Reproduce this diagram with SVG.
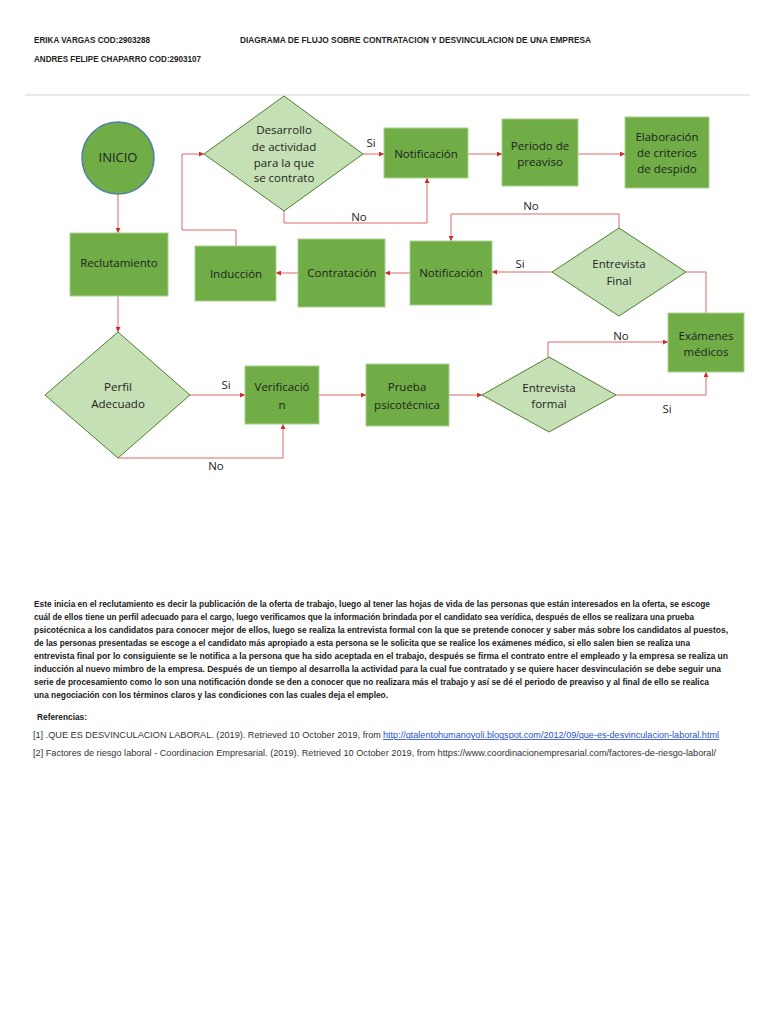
<svg xmlns="http://www.w3.org/2000/svg" width="768" height="1024" viewBox="0 0 768 1024">
<style>
.hd{font-family:"Liberation Sans",Arial,sans-serif;font-size:8.3px;font-weight:bold;fill:#222}
.bd{font-family:"Liberation Sans",Arial,sans-serif;font-size:8.6px;font-weight:bold;fill:#1a1a1a}
.rf{font-family:"Liberation Sans",Arial,sans-serif;font-size:8.2px;fill:#333}
.lk{fill:#1f4fd0;text-decoration:underline}
.box{fill:#70ad47;stroke:#a9d18e;stroke-width:1}
.dia{fill:#c5e0b4;stroke:#507e32;stroke-width:1}
.nt{font-family:"Open Sans","Noto Sans",sans-serif;font-size:11.5px;fill:#1e1e1e;text-anchor:middle}
.lb{font-family:"Open Sans","Noto Sans",sans-serif;font-size:11.5px;fill:#1e1e1e;text-anchor:middle}
.c{fill:none;stroke:#e06666;stroke-width:1}
</style>
<defs>
<marker id="ah" viewBox="0 0 6 6" refX="6" refY="3" markerWidth="5" markerHeight="5" orient="auto" markerUnits="userSpaceOnUse">
<path d="M0,0 L6,3 L0,6 z" fill="#d02c2c"/>
</marker>
</defs>
<rect width="768" height="1024" fill="#ffffff"/>
<g id="header">
<text class="hd" x="34" y="43" textLength="116" lengthAdjust="spacingAndGlyphs">ERIKA VARGAS COD:2903288</text>
<text class="hd" x="240" y="43" textLength="351" lengthAdjust="spacingAndGlyphs">DIAGRAMA DE FLUJO SOBRE CONTRATACION Y DESVINCULACION DE UNA EMPRESA</text>
<text class="hd" x="34" y="62" textLength="167" lengthAdjust="spacingAndGlyphs">ANDRES FELIPE CHAPARRO COD:2903107</text>
<line x1="25" y1="95" x2="750" y2="95" stroke="#d4d4d4" stroke-width="1"/>
</g>
<g id="connectors">
<path class="c" d="M118,194 V233" marker-end="url(#ah)"/>
<path class="c" d="M118,296 V332" marker-end="url(#ah)"/>
<path class="c" d="M190,395 H245" marker-end="url(#ah)"/>
<path class="c" d="M118,458 H283 V424" marker-end="url(#ah)"/>
<path class="c" d="M319,395 H366" marker-end="url(#ah)"/>
<path class="c" d="M449,395 H482" marker-end="url(#ah)"/>
<path class="c" d="M548,357 V342 H668" marker-end="url(#ah)"/>
<path class="c" d="M616,395 H706 V372" marker-end="url(#ah)"/>
<path class="c" d="M706,313 V272 H686"/>
<path class="c" d="M552,272 H492" marker-end="url(#ah)"/>
<path class="c" d="M619,228 V214 H451 V241" marker-end="url(#ah)"/>
<path class="c" d="M410,273 H385" marker-end="url(#ah)"/>
<path class="c" d="M298,273 H276" marker-end="url(#ah)"/>
<path class="c" d="M236,246 V230 H182 V154 H204" marker-end="url(#ah)"/>
<path class="c" d="M363,154 H384" marker-end="url(#ah)"/>
<path class="c" d="M284,211 V223 H427 V178" marker-end="url(#ah)"/>
<path class="c" d="M468,154 H502" marker-end="url(#ah)"/>
<path class="c" d="M578,154 H625" marker-end="url(#ah)"/>
<text class="lb" x="371" y="147">Si</text>
<text class="lb" x="359" y="221">No</text>
<text class="lb" x="226" y="389">Si</text>
<text class="lb" x="216" y="470">No</text>
<text class="lb" x="621" y="340">No</text>
<text class="lb" x="667" y="413">Si</text>
<text class="lb" x="520" y="268">Si</text>
<text class="lb" x="531" y="210">No</text>
</g>
<g id="inicio">
<circle cx="118" cy="158" r="36" fill="#70ad47" stroke="#4f7fa8" stroke-width="1.5"/>
<text class="nt" x="118" y="162" style="font-size:13px">INICIO</text>
</g>
<g id="reclutamiento">
<rect class="box" x="70" y="233" width="98" height="63"/>
<text class="nt" x="119" y="267">Reclutamiento</text>
</g>
<g id="perfil">
<polygon class="dia" points="118,332 190,395 118,458 45,395"/>
<text class="nt" x="118" y="391">Perfil</text>
<text class="nt" x="118" y="408">Adecuado</text>
</g>
<g id="verificacion">
<rect class="box" x="245" y="366" width="74" height="58"/>
<text class="nt" x="282" y="391">Verificació</text>
<text class="nt" x="282" y="409">n</text>
</g>
<g id="prueba">
<rect class="box" x="366" y="364" width="83" height="62"/>
<text class="nt" x="407" y="391">Prueba</text>
<text class="nt" x="407" y="409">psicotécnica</text>
</g>
<g id="entrevista-formal">
<polygon class="dia" points="549,357 616,395 549,432 482,395"/>
<text class="nt" x="549" y="392">Entrevista</text>
<text class="nt" x="549" y="408">formal</text>
</g>
<g id="examenes">
<rect class="box" x="668" y="313" width="76" height="59"/>
<text class="nt" x="706" y="340">Exámenes</text>
<text class="nt" x="706" y="356">médicos</text>
</g>
<g id="entrevista-final">
<polygon class="dia" points="619,228 686,272 619,316 552,272"/>
<text class="nt" x="619" y="268">Entrevista</text>
<text class="nt" x="619" y="285">Final</text>
</g>
<g id="notificacion2">
<rect class="box" x="410" y="241" width="82" height="64"/>
<text class="nt" x="451" y="277">Notificación</text>
</g>
<g id="contratacion">
<rect class="box" x="298" y="239" width="87" height="68"/>
<text class="nt" x="342" y="277">Contratación</text>
</g>
<g id="induccion">
<rect class="box" x="195" y="246" width="81" height="55"/>
<text class="nt" x="236" y="278">Inducción</text>
</g>
<g id="desarrollo">
<polygon class="dia" points="284,96 363,154 284,211 204,154"/>
<text class="nt" x="284" y="134">Desarrollo</text>
<text class="nt" x="284" y="151">de actividad</text>
<text class="nt" x="284" y="167">para la que</text>
<text class="nt" x="284" y="182">se contrato</text>
</g>
<g id="notificacion1">
<rect class="box" x="384" y="128" width="84" height="50"/>
<text class="nt" x="426" y="158">Notificación</text>
</g>
<g id="preaviso">
<rect class="box" x="502" y="119" width="76" height="67"/>
<text class="nt" x="540" y="150">Periodo de</text>
<text class="nt" x="540" y="166">preaviso</text>
</g>
<g id="elaboracion">
<rect class="box" x="625" y="117" width="84" height="71"/>
<text class="nt" x="667" y="141">Elaboración</text>
<text class="nt" x="667" y="157">de criterios</text>
<text class="nt" x="667" y="173">de despido</text>
</g>
<g id="body">
<text class="bd" x="34" y="607" textLength="676" lengthAdjust="spacingAndGlyphs">Este inicia en el reclutamiento es decir la publicación de la oferta de trabajo, luego al tener las hojas de vida de las personas que están interesados en la oferta, se escoge</text>
<text class="bd" x="34" y="620" textLength="660" lengthAdjust="spacingAndGlyphs">cuál de ellos tiene un perfil adecuado para el cargo, luego verificamos que la información brindada por el candidato sea verídica, después de ellos se realizara una prueba</text>
<text class="bd" x="34" y="633" textLength="694" lengthAdjust="spacingAndGlyphs">psicotécnica a los candidatos para conocer mejor de ellos, luego se realiza la entrevista formal con la que se pretende conocer y saber más sobre los candidatos al puestos,</text>
<text class="bd" x="34" y="646" textLength="656" lengthAdjust="spacingAndGlyphs">de las personas presentadas se escoge a el candidato más apropiado a esta persona se le solicita que se realice los exámenes médico, si ello salen bien se realiza una</text>
<text class="bd" x="34" y="659" textLength="694" lengthAdjust="spacingAndGlyphs">entrevista final por lo consiguiente se le notifica a la persona que ha sido aceptada en el trabajo, después se firma el contrato entre el empleado y la empresa se realiza un</text>
<text class="bd" x="34" y="672" textLength="687" lengthAdjust="spacingAndGlyphs">inducción al nuevo mimbro de la empresa. Después de un tiempo al desarrolla la actividad para la cual fue contratado y se quiere hacer desvinculación se debe seguir una</text>
<text class="bd" x="34" y="685" textLength="675" lengthAdjust="spacingAndGlyphs">serie de procesamiento como lo son una notificación donde se den a conocer que no realizara más el trabajo y así se dé el periodo de preaviso y al final de ello se realica</text>
<text class="bd" x="34" y="698" textLength="354" lengthAdjust="spacingAndGlyphs">una negociación con los términos claros y las condiciones con las cuales deja el empleo.</text>
</g>
<g id="references">
<text class="bd" x="37" y="720" textLength="50" lengthAdjust="spacingAndGlyphs">Referencias:</text>
<text class="rf" x="33" y="738" textLength="348" lengthAdjust="spacingAndGlyphs">[1] .QUE ES DESVINCULACION LABORAL. (2019). Retrieved 10 October 2019, from</text>
<text class="rf lk" x="383" y="738" textLength="336" lengthAdjust="spacingAndGlyphs">http://gtalentohumanoyoli.blogspot.com/2012/09/que-es-desvinculacion-laboral.html</text>
<text class="rf" x="33" y="756" textLength="683" lengthAdjust="spacingAndGlyphs">[2] Factores de riesgo laboral - Coordinacion Empresarial. (2019). Retrieved 10 October 2019, from https://www.coordinacionempresarial.com/factores-de-riesgo-laboral/</text>
</g>
</svg>
